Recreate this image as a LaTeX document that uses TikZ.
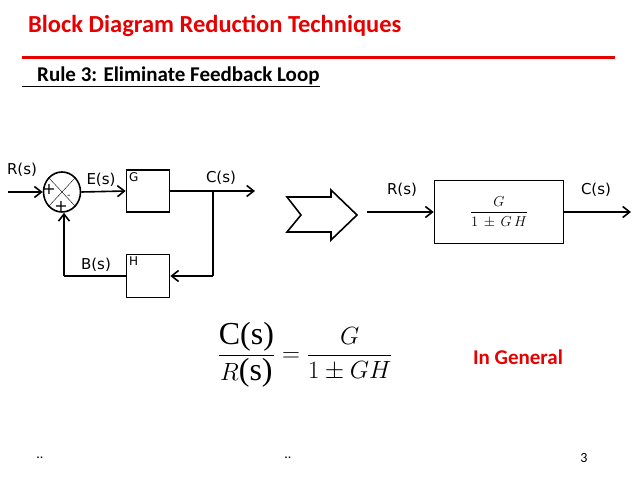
\documentclass[tikz,border=0pt]{standalone}
\usepackage{amsmath}
\usepackage{fontspec}
\setmainfont{Carlito}
\newfontfamily\sigfont{DejaVu Sans}
\newfontfamily\eqfont{Liberation Serif}
\usetikzlibrary{arrows.meta, shapes.geometric}
\definecolor{titlered}{RGB}{230, 0, 0}
\tikzset{
  block/.style={draw, line width=1.6pt, minimum width=43pt, minimum height=42pt, inner sep=0pt},
  sig/.style={font=\sigfont\fontsize{15}{15}\selectfont},
  flow/.style={line width=1.6pt, -{Straight Barb[length=7pt, width=11pt]}},
}
\begin{document}
\begin{tikzpicture}[x=1pt, y=-1pt]
    \useasboundingbox (0,0) rectangle (638,478);

    % Header
    \node[anchor=base west, text=titlered, font=\bfseries\fontsize{24.5}{24}\selectfont, inner sep=0pt] (title) at (28,33) {Block Diagram Reduction Techniques};
    \draw[titlered, line width=3pt] (22,58) -- (615,58);
    \node[anchor=base west, font=\bfseries\fontsize{21}{21}\selectfont, inner sep=0pt] (rule) at (37,82) {Rule 3: Eliminate Feedback Loop};
    \draw[line width=1pt] (22,87) -- (320,87);

    % Feedback loop
    \coordinate (in) at (8,192);
    \node[draw, line width=1.6pt, ellipse, minimum width=37pt, minimum height=40pt, inner sep=0pt] (sum) at (62,192) {};
    \draw[thin] (sum.north west) -- (sum.south east) (sum.north east) -- (sum.south west);
    \node[block, minimum height=42pt] (G) at (148,191) {};
    \node[block, minimum height=43pt] (H) at (148,276) {};
    \node[font=\sigfont\fontsize{12}{12}\selectfont, anchor=north west] at (G.north west) {G};
    \node[font=\sigfont\fontsize{12}{12}\selectfont, anchor=north west] at (H.north west) {H};
    \coordinate (out) at (255,191);
    \coordinate (split) at (213,191);
    \coordinate (down) at (213,276);
    \coordinate (back) at (64,276);
    \draw[flow] (in) -- (sum.west);
    \draw[flow] (sum.east) -- (G.west);
    \draw[flow] (G.east) -- (out);
    \draw[line width=1.6pt] (split) -- (down);
    \draw[flow] (down) -- (H.east);
    \draw[line width=1.6pt] (H.west) -- (back);
    \draw[flow] (back) -- (back |- sum.south);
    \node[sig] (R1) at (22,170) {R(s)};
    \node[sig] (E1) at (101,180) {E(s)};
    \node[sig] (C1) at (221,178) {C(s)};
    \node[sig] (B1) at (96,265) {B(s)};
    \node[font=\sigfont\fontsize{16}{16}\selectfont, inner sep=0pt] (p1) at (49,189) {+};
    \node[font=\sigfont\fontsize{16}{16}\selectfont, inner sep=0pt] (p2) at (61,206) {+};
    \node[font=\fontsize{10}{10}\selectfont, inner sep=0pt] (m1) at (69,197) {-};

    % Equivalent block
    \draw[line width=1.6pt] (287,197) -- (331,197) -- (331,190) -- (357,215) -- (331,240)
        -- (331,232) -- (287,232) -- (301,215) -- cycle;
    \coordinate (in2) at (367,212);
    \node[block, minimum width=129pt, minimum height=63pt] (T) at (499,212) {};
    \coordinate (out2) at (631,212);
    \draw[flow] (in2) -- (T.west);
    \draw[flow] (T.east) -- (out2);
    \node[font=\fontsize{15}{15}\selectfont] at (T) {$\dfrac{G}{1\,\pm\,G\,H}$};
    \node[sig] (R2) at (402,190) {R(s)};
    \node[sig] (C2) at (596,190) {C(s)};

    % Result
    \node[font=\fontsize{32}{32}\selectfont] (eq) at (305,355)
        {$\dfrac{\text{\eqfont C(s)}}{R\text{\eqfont (s)}} = \dfrac{G}{1 \pm GH}$};
    \node[text=titlered, font=\bfseries\fontsize{21}{21}\selectfont] (gen) at (518,357) {In General};

    % Footer
    \node[font=\fontsize{14}{14}\selectfont] at (40,458) {..};
    \node[font=\fontsize{14}{14}\selectfont] at (288,458) {..};
    \node[font=\fontsize{14}{14}\selectfont] at (584,458) {3};
\end{tikzpicture}
\end{document}
